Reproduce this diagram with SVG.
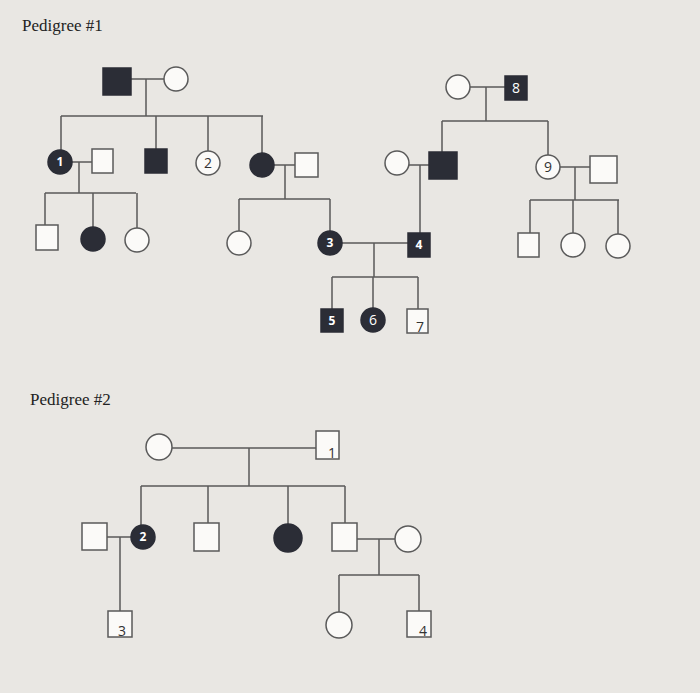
<svg xmlns="http://www.w3.org/2000/svg" width="700" height="693" viewBox="0 0 700 693">
<style>
.s{fill:#fbfaf8;stroke:#5a5a5a;stroke-width:1.5}
.f{fill:#2b2d36;stroke:#2b2d36;stroke-width:1.5}
#connectors path{fill:none;stroke:#5a5a5a;stroke-width:1.5}
.w{font-family:"Open Sans","DejaVu Sans",sans-serif;font-size:12px;font-weight:bold;fill:#fff;text-anchor:middle}
.d{font-family:"Open Sans","DejaVu Sans",sans-serif;font-size:14px;fill:#333;text-anchor:middle}
.t{font-family:"Liberation Serif",serif;font-size:17px;fill:#222}
</style>
<rect width="700" height="693" fill="#e9e7e3"/>
<text class="t" x="22" y="31">Pedigree #1</text>
<text class="t" x="30" y="405">Pedigree #2</text>
<g id="connectors">
<path d="M131 79H164M146 79V116M61 116H263M61 116V150M156 116V149M208 116V151M262 116V153"/>
<path d="M72 162H92M79 162V193M45 193H136M45 193V225M93 193V227M137 193V228"/>
<path d="M274 165H295M285 165V199M239 199H330M239 199V231M330 199V231"/>
<path d="M470 87H505M486 87V121M442 121H548M442 121V152M548 121V155"/>
<path d="M409 165H429M420 165V233M342 243H408M374 243V277M332 277H418M332 277V309M373 277V308M418 277V309"/>
<path d="M560 167H590M575 167V200M530 200H619M530 200V233M573 200V233M618 200V234"/>
<path d="M172 448H316M249 448V486M141 486H345M141 486V525M208 486V523M288 486V524M345 486V523"/>
<path d="M107 537H131M120 537V611M357 539H395M379 539V575M339 575H419M339 575V612M419 575V611"/>
</g>
<g id="p1-gf"><rect class="f" x="103" y="68" width="28" height="27"/></g>
<g id="p1-gm"><circle class="s" cx="176" cy="79" r="12"/></g>
<g id="p1-n1"><circle class="f" cx="60" cy="162" r="12"/><text class="w" x="60" y="166">1</text></g>
<g id="p1-n1h"><rect class="s" x="92" y="149" width="21" height="24"/></g>
<g id="p1-b2"><rect class="f" x="145" y="149" width="22" height="24"/></g>
<g id="p1-n2"><circle class="s" cx="208" cy="163" r="12"/><text class="d" x="208" y="168">2</text></g>
<g id="p1-s4"><circle class="f" cx="262" cy="165" r="12"/></g>
<g id="p1-s4h"><rect class="s" x="295" y="153" width="23" height="24"/></g>
<g id="p1-c1"><rect class="s" x="36" y="225" width="22" height="25"/></g>
<g id="p1-c2"><circle class="f" cx="93" cy="239" r="12"/></g>
<g id="p1-c3"><circle class="s" cx="137" cy="240" r="12"/></g>
<g id="p1-c4"><circle class="s" cx="239" cy="243" r="12"/></g>
<g id="p1-n3"><circle class="f" cx="330" cy="243" r="12"/><text class="w" x="330" y="247">3</text></g>
<g id="p1-m"><circle class="s" cx="458" cy="87" r="12"/></g>
<g id="p1-n8"><rect class="f" x="505" y="76" width="22" height="24"/><text class="w" x="516" y="93" style="font-size:14px;font-weight:normal">8</text></g>
<g id="p1-w"><circle class="s" cx="397" cy="163" r="12"/></g>
<g id="p1-a"><rect class="f" x="429" y="152" width="28" height="27"/></g>
<g id="p1-n4"><rect class="f" x="408" y="233" width="22" height="24"/><text class="w" x="419" y="249">4</text></g>
<g id="p1-n9"><circle class="s" cx="548" cy="167" r="12"/><text class="d" x="548" y="172">9</text></g>
<g id="p1-n9h"><rect class="s" x="590" y="156" width="27" height="27"/></g>
<g id="p1-g1"><rect class="s" x="518" y="233" width="21" height="24"/></g>
<g id="p1-g2"><circle class="s" cx="573" cy="245" r="12"/></g>
<g id="p1-g3"><circle class="s" cx="618" cy="246" r="12"/></g>
<g id="p1-n5"><rect class="f" x="321" y="309" width="22" height="23"/><text class="w" x="332" y="325">5</text></g>
<g id="p1-n6"><circle class="f" cx="373" cy="320" r="12"/><text class="w" x="373" y="325" style="font-weight:normal;font-size:14px">6</text></g>
<g id="p1-n7"><rect class="s" x="407" y="309" width="21" height="24"/><text class="d" x="420" y="332">7</text></g>
<g id="p2-m"><circle class="s" cx="159" cy="447" r="13"/></g>
<g id="p2-n1"><rect class="s" x="316" y="431" width="23" height="28"/><text class="d" x="332" y="458">1</text></g>
<g id="p2-h"><rect class="s" x="82" y="523" width="25" height="27"/></g>
<g id="p2-n2"><circle class="f" cx="143" cy="537" r="12"/><text class="w" x="143" y="541">2</text></g>
<g id="p2-b"><rect class="s" x="194" y="523" width="25" height="28"/></g>
<g id="p2-s"><circle class="f" cx="288" cy="538" r="14"/></g>
<g id="p2-b2"><rect class="s" x="332" y="523" width="25" height="28"/></g>
<g id="p2-w"><circle class="s" cx="408" cy="539" r="13"/></g>
<g id="p2-n3"><rect class="s" x="108" y="611" width="24" height="26"/><text class="d" x="122" y="636">3</text></g>
<g id="p2-d"><circle class="s" cx="339" cy="625" r="13"/></g>
<g id="p2-n4"><rect class="s" x="407" y="611" width="24" height="26"/><text class="d" x="423" y="636">4</text></g>
</svg>
